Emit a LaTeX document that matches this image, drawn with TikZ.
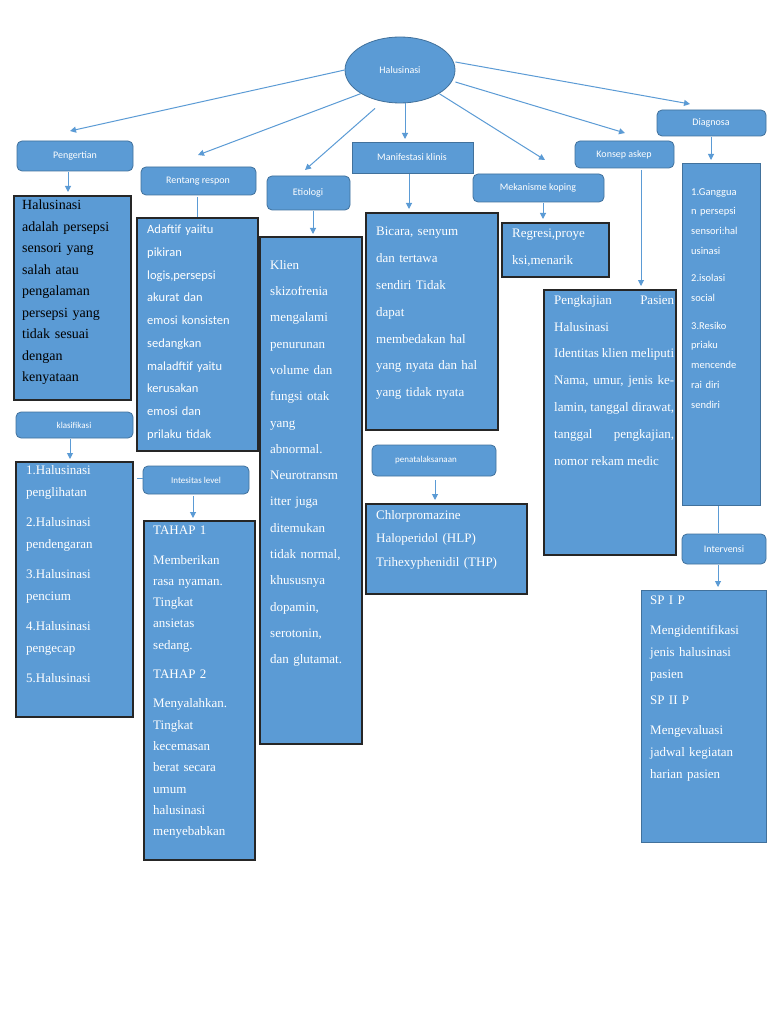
\documentclass[tikz,border=0pt]{standalone}
\usepackage{fontspec}
\setmainfont{Liberation Serif}
\newfontfamily\calfont{Carlito}
\usetikzlibrary{arrows.meta,shapes.geometric}
\definecolor{bl}{HTML}{5B9BD5}
\definecolor{bd}{HTML}{41719C}
\tikzset{
 x=1pt,y=-1pt,
 lab/.style={draw=bd,fill=bl,rounded corners=5pt,line width=0.8pt},
 sqlab/.style={draw=bd,fill=bl,line width=0.8pt},
 lt/.style={text=white,font=\calfont\fontsize{10}{12}\selectfont},
 lts/.style={text=white,font=\calfont\fontsize{9}{11}\selectfont},
 cbox/.style={draw=black!85,fill=bl,line width=1.2pt},
 dbox/.style={draw=bd,fill=bl,line width=0.8pt},
 txt/.style={anchor=north west,text=white,align=left,inner sep=0pt},
 arr/.style={draw=bl,line width=1pt,-{Triangle[length=6pt,width=6pt]}},
 ln/.style={draw=bl,line width=1pt}
}
\begin{document}
\begin{tikzpicture}
\useasboundingbox (0,0) rectangle (768,1024);
\fill[white] (0,0) rectangle (768,1024);
\node[draw=bd,fill=bl,ellipse,minimum width=110,minimum height=66,lt,line width=0.8pt] (hal) at (400,70) {Halusinasi};
\path[lab] (17,141) rectangle (133,171); \node[lt] (peng) at (75,156) {Pengertian};
\path[lab] (141,167) rectangle (256,195); \node[lt] (rent) at (198,181) {Rentang respon};
\path[lab] (267,176) rectangle (350,210); \node[lt] (etio) at (308,193) {Etiologi};
\path[sqlab] (352,142) rectangle (473,173); \node[lt] (mani) at (412,157) {Manifestasi klinis};
\path[lab] (473,174) rectangle (604,202); \node[lt] (meka) at (538,188) {Mekanisme koping};
\path[lab] (575,141) rectangle (674,168); \node[lt] (kons) at (624,155) {Konsep askep};
\path[lab] (657,110) rectangle (766,136); \node[lt] (diag) at (711,123) {Diagnosa};
\path[lab] (16,412) rectangle (133,438); \node[lts] (klas) at (74,425) {klasifikasi};
\path[lab] (143,466) rectangle (249,494); \node[lts] (inte) at (196,480) {Intesitas level};
\path[lab] (372,445) rectangle (496,476); \node[lts] (pena) at (426,460) {penatalaksanaan};
\path[lab] (682,534) rectangle (766,564); \node[lt] (inter) at (724,549) {Intervensi};
\coordinate (a1) at (70,131); \coordinate (a2) at (198,155); \coordinate (a3) at (305,170);
\coordinate (a4) at (405,139); \coordinate (a5) at (545,160); \coordinate (a6) at (625,133); \coordinate (a7) at (690,104);
\draw[arr] (hal.west) -- (a1);
\draw[arr] (hal.south west) -- (a2);
\draw[arr] (hal.south) ++(-25,5) -- (a3);
\draw[arr] (405,103) -- (a4);
\draw[arr] (hal.south east) -- (a5);
\draw[arr] (hal.east) ++(0,12) -- (a6);
\draw[arr] (hal.east) ++(0,-8) -- (a7);
\path[cbox] (14,196) rectangle (131,400);
\node[txt,text=black,text width=110,font=\fontsize{14}{21.5}\selectfont] (pengc) at (22,200) {Halusinasi\\adalah persepsi\\sensori yang\\salah atau\\pengalaman\\persepsi yang\\tidak sesuai\\dengan\\kenyataan};
\path[cbox] (137,218) rectangle (258,451);
\node[txt,text width=115,font=\calfont\fontsize{12.5}{22.7}\selectfont] (rentc) at (147,225) {Adaftif yaiitu\\pikiran\\logis,persepsi\\akurat dan\\emosi konsisten\\sedangkan\\maladftif yaitu\\kerusakan\\emosi dan\\prilaku tidak};
\path[cbox] (260,237) rectangle (362,744);
\node[txt,text width=100,font=\fontsize{13}{26.3}\selectfont] (etic) at (270,260) {Klien\\skizofrenia\\mengalami\\penurunan\\volume dan\\fungsi otak\\yang\\abnormal.\\Neurotransm\\itter juga\\ditemukan\\tidak normal,\\khususnya\\dopamin,\\serotonin,\\dan glutamat.};
\path[cbox] (366,213) rectangle (498,430);
\node[txt,text width=125,font=\fontsize{13}{26.8}\selectfont] (manc) at (376,227) {Bicara, senyum\\dan tertawa\\sendiri Tidak\\dapat\\membedakan hal\\yang nyata dan hal\\yang tidak nyata};
\path[cbox] (502,223) rectangle (609,277);
\node[txt,text width=105,font=\fontsize{13}{26.8}\selectfont] (mekc) at (512,229) {Regresi,proye\\ksi,menarik};
\path[cbox] (544,290) rectangle (676,555);
\node[txt,text width=120,align=justify,font=\fontsize{13}{26.8}\selectfont] (konc) at (554,295) {Pengkajian Pasien Halusinasi\\Identitas klien meliputi Nama, umur, jenis kelamin, tanggal dirawat, tanggal pengkajian, nomor rekam medic};
\path[dbox] (682,163) rectangle (760,505);
\node[txt,text width=76,font=\calfont\fontsize{10.5}{19.7}\selectfont] (diagc) at (691,188) {1.Ganggua\\n persepsi\\sensori:hal\\usinasi\\[8pt]2.isolasi\\social\\[8pt]3.Resiko\\priaku\\mencende\\rai diri\\sendiri};
\path[cbox] (16,462) rectangle (133,717);
\node[txt,text width=110,font=\fontsize{13}{22}\selectfont] (klasc) at (26,465) {1.Halusinasi\\penglihatan\\[8pt]2.Halusinasi\\pendengaran\\[8pt]3.Halusinasi\\pencium\\[8pt]4.Halusinasi\\pengecap\\[8pt]5.Halusinasi};
\path[cbox] (144,521) rectangle (255,860);
\begin{scope}
\clip (144,521) rectangle (255,859);
\node[txt,text width=100,font=\fontsize{13}{21.3}\selectfont] (intc) at (153,526) {TAHAP 1\\[8pt]Memberikan\\rasa nyaman.\\Tingkat\\ansietas\\sedang.\\[8pt]TAHAP 2\\[8pt]Menyalahkan.\\Tingkat\\kecemasan\\berat secara\\umum\\halusinasi\\menyebabkan};
\end{scope}
\path[cbox] (366,504) rectangle (527,594);
\node[txt,text width=155,font=\fontsize{13}{23.5}\selectfont] (penc) at (376,510) {Chlorpromazine\\Haloperidol (HLP)\\Trihexyphenidil (THP)};
\path[dbox] (641,590) rectangle (766,842);
\node[txt,text width=115,font=\fontsize{13}{22}\selectfont] (intvc) at (650,596) {SP I P\\[8pt]Mengidentifikasi\\jenis halusinasi\\pasien\\[4pt]SP II P\\[8pt]Mengevaluasi\\jadwal kegiatan\\harian pasien};
\draw[arr] (68,172) -- (68,192);
\draw[ln] (197,197) -- (197,217);
\draw[arr] (313,211) -- (313,234);
\draw[arr] (409,174) -- (409,209);
\draw[arr] (543,203) -- (543,219);
\draw[arr] (641,170) -- (641,286);
\draw[arr] (711,137) -- (711,160);
\draw[arr] (70,439) -- (70,459);
\draw[arr] (193,496) -- (193,518);
\draw[arr] (435,480) -- (435,500);
\draw[ln] (718,506) -- (718,533);
\draw[arr] (718,565) -- (718,587);
\draw[ln] (137,478) -- (143,478);
\end{tikzpicture}
\end{document}
